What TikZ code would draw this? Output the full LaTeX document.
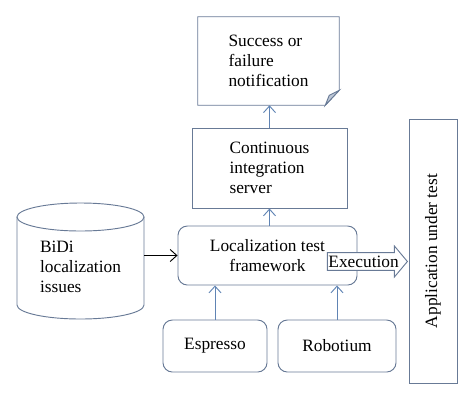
\documentclass[tikz,border=0pt]{standalone}
\usepackage{fontspec}
\setmainfont{Liberation Serif}
\usetikzlibrary{arrows.meta,shapes.arrows,calc,positioning}

\definecolor{boxline}{RGB}{104,122,150}
\definecolor{arrowblue}{RGB}{96,132,180}
\definecolor{foldfill}{RGB}{190,200,215}

\begin{document}
\begin{tikzpicture}[x=0.75pt,y=-0.75pt,
    every node/.style={font=\fontsize{13}{15}\selectfont},
    box/.style={draw=boxline,line width=0.7pt,inner sep=0pt},
    roundbox/.style={box,rounded corners=7pt},
    >={Straight Barb[length=5pt,width=9pt]},
    uparrow/.style={->,draw=arrowblue,line width=0.7pt}]

        \useasboundingbox (0,0) rectangle (474,401);

        % boxes
        \node[minimum width=105.75pt,minimum height=66pt,align=left] (note) at (268.5,61) {Success or\\failure\\notification};
        \node[box,minimum width=116.25pt,minimum height=60pt,align=left] (ci) at (269.5,168) {Continuous\\integration\\server};
        \node[roundbox,minimum width=134.25pt,minimum height=44.25pt,align=center] (fw) at (267.5,255.5) {Localization test\\framework};
        \node[roundbox,minimum width=78pt,minimum height=39pt] (esp) at (215,346) {Espresso};
        \node[roundbox,minimum width=88.5pt,minimum height=39pt] (rob) at (337,346) {Robotium};
        \node[box,rotate=90,minimum width=198pt,minimum height=36pt] (app) at (433,251) {Application under test};
        \node[minimum width=95.25pt,align=left,inner sep=0pt] (issues) at (80.5,267) {BiDi\\localization\\issues};

        % note with folded corner
        \draw[boxline,line width=0.7pt] (note.north west) -- (note.north east) -- ($(note.south east)+(0,-15)$) -- ($(note.south east)+(-14,0)$) -- (note.south west) -- cycle;
        \filldraw[boxline,fill=foldfill,line width=0.7pt] ($(note.south east)+(0,-15)$) -- ($(note.south east)+(-14,0)$) -- ($(note.south east)+(-10,-10)$) -- cycle;

        % cylinder
        \draw[boxline,line width=0.7pt] ($(issues)+(-63.5,-50)$) -- ($(issues)+(-63.5,38)$) arc[start angle=180,end angle=360,x radius=47.625pt,y radius=10.5pt] -- ($(issues)+(63.5,-50)$);
        \draw[boxline,line width=0.7pt] ($(issues)+(0,-50)$) ellipse[x radius=47.625pt,y radius=10.5pt];

        % execution arrow
        \node[single arrow,draw=boxline,fill=white,line width=0.7pt,inner xsep=0.5pt,inner ysep=2pt,single arrow head extend=5pt,single arrow tip angle=100,anchor=tip] (exec) at (408,261.5) {Execution};

        % connectors
        \draw[uparrow] (ci.south |- fw.north) -- (ci.south);
        \draw[uparrow] (ci.north) -- (ci.north |- note.south);
        \draw[uparrow] (esp.north) -- (esp.north |- fw.south);
        \draw[uparrow] (rob.north) -- (rob.north |- fw.south);
        \draw[->,line width=0.7pt] (issues.east |- fw.west) -- (fw.west);

\end{tikzpicture}
\end{document}
